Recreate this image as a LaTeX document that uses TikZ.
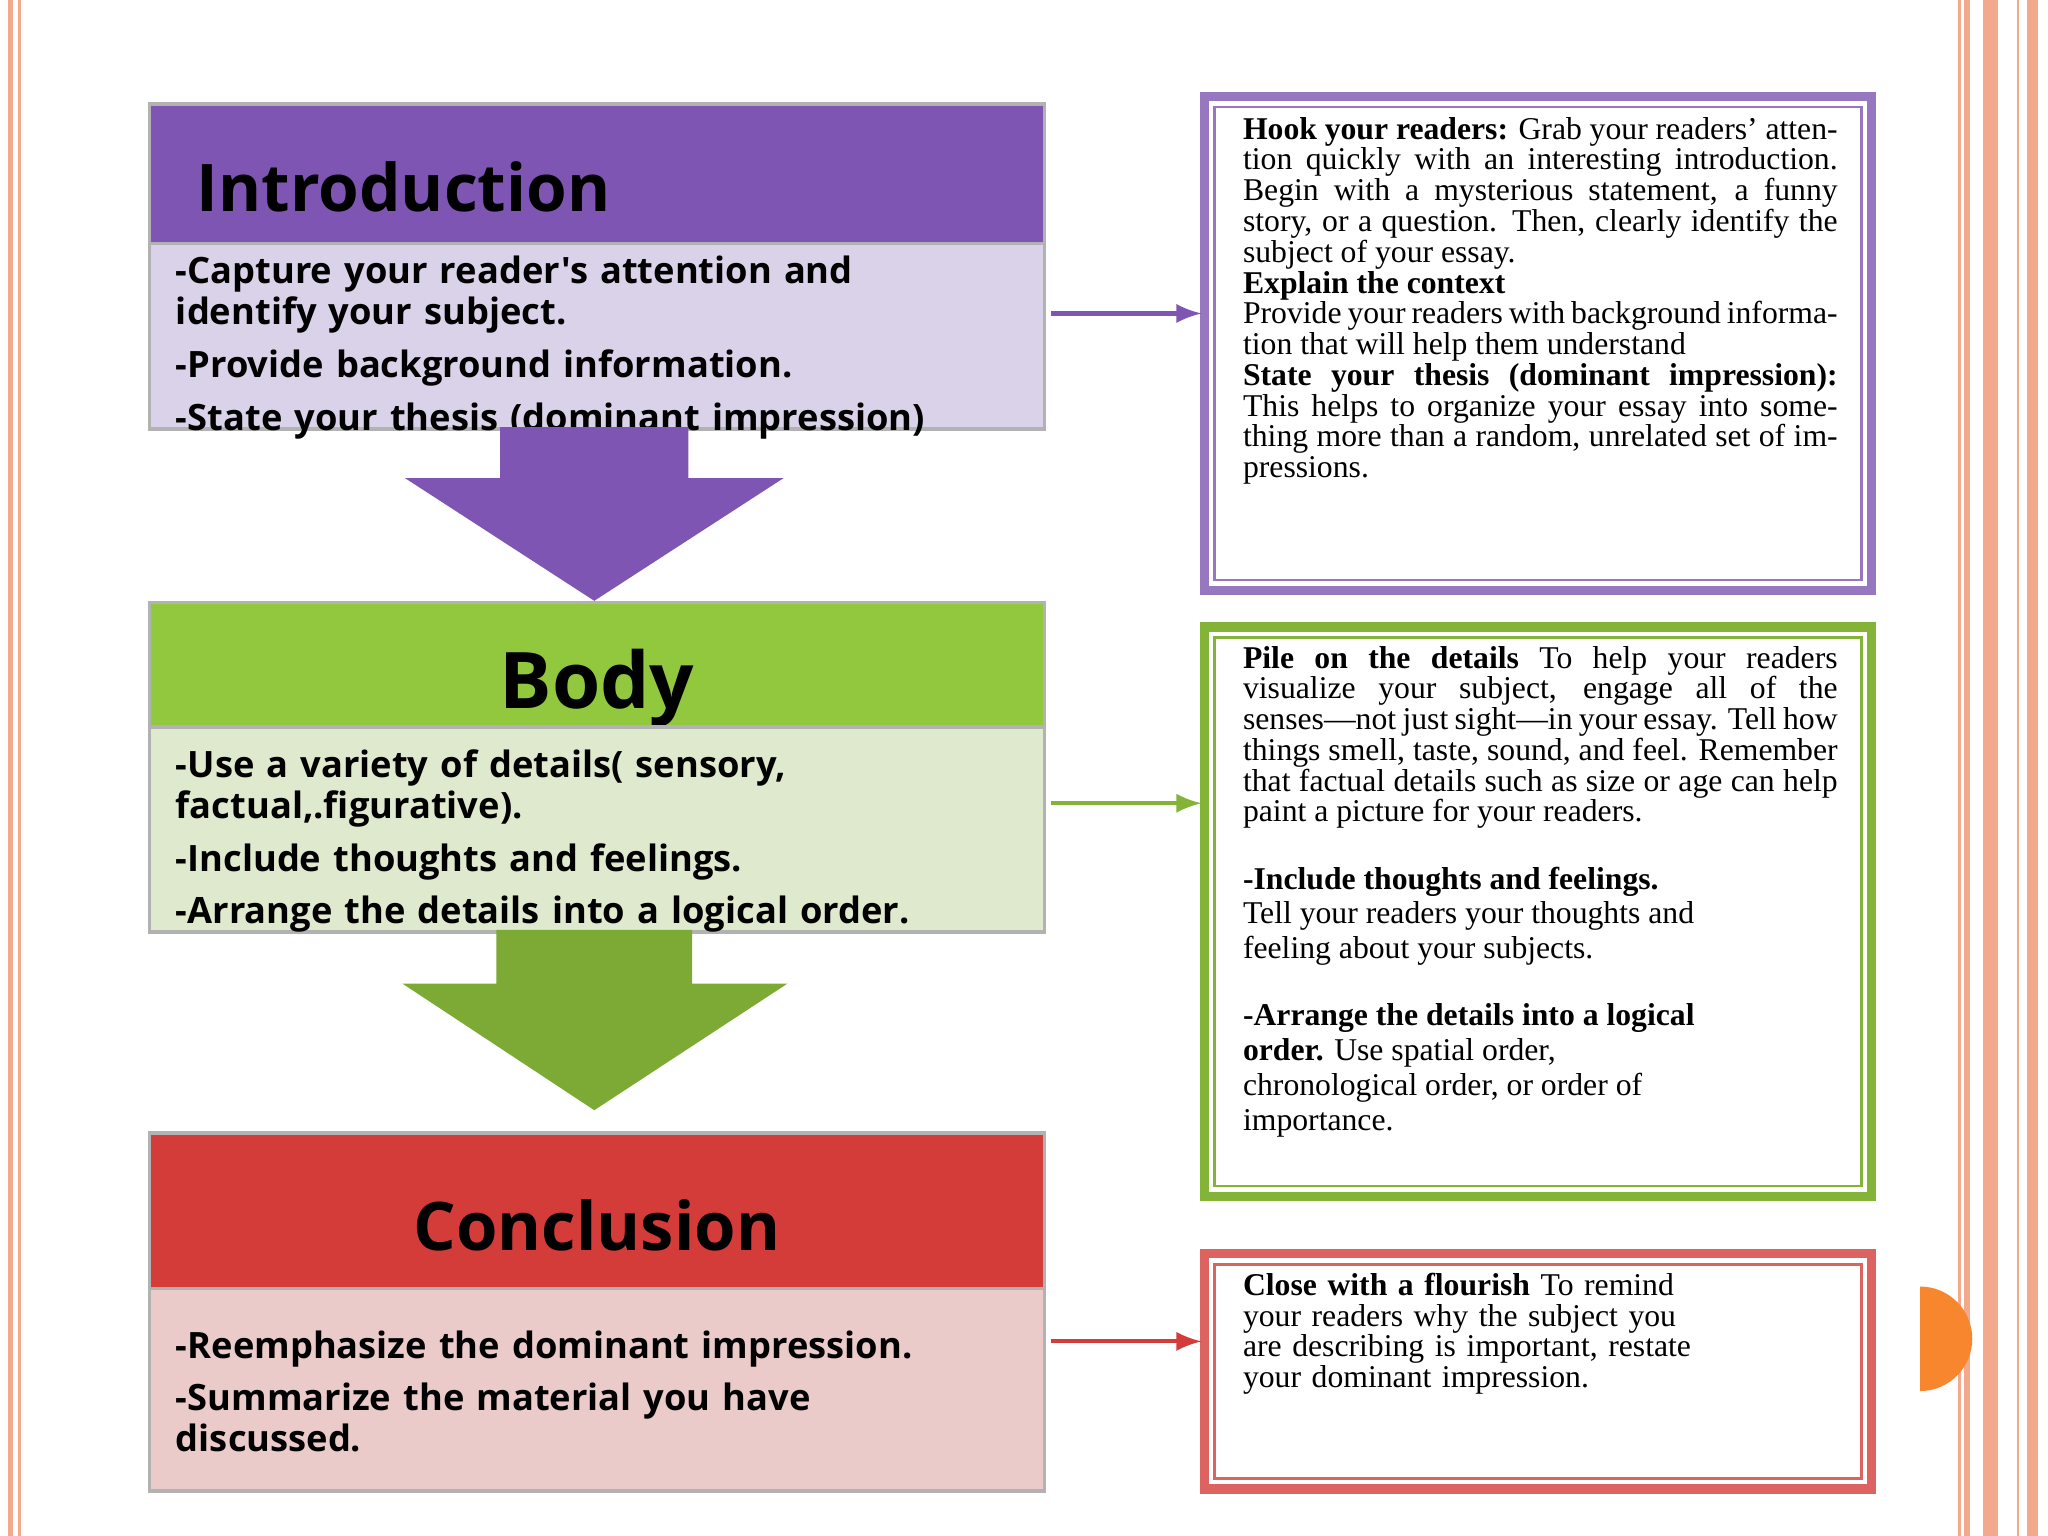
\documentclass[tikz,border=0pt]{standalone}
\usepackage{fontspec}
\setmainfont{Liberation Serif}
\newfontfamily\hdfont{Open Sans}
\newcommand\nohyph{\hyphenpenalty=10000\relax\exhyphenpenalty=10000\relax}
\definecolor{pur}{HTML}{7E55B2}
\definecolor{purl}{HTML}{DAD2E9}
\definecolor{grn}{HTML}{92C83E}
\definecolor{grnl}{HTML}{DFE9CE}
\definecolor{red1}{HTML}{D43C3A}
\definecolor{redl}{HTML}{EBCACA}
\definecolor{sal}{HTML}{F3A98C}
\definecolor{org}{HTML}{F7862E}
\tikzset{x=0.01cm,y=-0.01cm,
 hdr/.style={draw=gray!60,line width=0.8pt},
 lbody/.style={anchor=north west,text width=6.6cm,align=left,inner sep=0pt,font=\hdfont\bfseries\fontsize{7.9}{7.4}\selectfont},
 rtext/.style={anchor=north west,text width=4.55cm,align=justify,inner sep=0pt,font=\fontsize{6.9}{6.7}\selectfont},
 rleft/.style={anchor=north west,text width=4.55cm,align=left,inner sep=0pt,font=\fontsize{6.9}{6.7}\selectfont},
 conn/.style={-latex,line width=0.9pt}}
\begin{document}
\begin{tikzpicture}
\useasboundingbox (0,0) rectangle (1568,1176);
\fill[white] (0,0) rectangle (1568,1176);
% page borders
\draw[sal,line width=1.2pt] (8,0)--(8,1176);
\draw[sal,line width=0.6pt] (15,0)--(15,1176);
\draw[sal,line width=0.6pt] (1500,0)--(1500,1176);
\draw[sal,line width=1.2pt] (1506,0)--(1506,1176);
\fill[sal] (1518,0) rectangle (1530,1176);
\draw[sal,line width=0.6pt] (1545,0)--(1545,1176);
\fill[sal] (1552,0) rectangle (1560,1176);
\fill[org] (1470,985) arc[start angle=90,end angle=-90,radius=0.4cm] -- cycle;
% intro
\node[hdr,fill=pur,minimum width=6.85cm,minimum height=1.07cm,anchor=north west] (ih) at (113,78) {};
\node[anchor=west,inner sep=0pt,font=\hdfont\bfseries\fontsize{14.3}{15}\selectfont] (iht) at (150,143) {Introduction};
\node[hdr,fill=purl,minimum width=6.85cm,minimum height=1.42cm,anchor=north west] (ib) at (113,185) {};
\node[lbody] (ibt) at (134,195) {-Capture your reader's attention and\\identify your subject.\\[2.6pt]-Provide background information.\\[2.6pt]-State your thesis (dominant impression)};
\fill[pur] (383,327) rectangle (527,366) -- (600,366) -- (455,460) -- (310,366) -- (383,366) -- cycle;
% body
\node[hdr,fill=grn,minimum width=6.85cm,minimum height=0.95cm,anchor=north west] (bh) at (113,460) {};
\node[font=\hdfont\bfseries\fontsize{17}{18}\selectfont] (bht) at (457,527) {Body};
\node[hdr,fill=grnl,minimum width=6.85cm,minimum height=1.57cm,anchor=north west] (bb) at (113,555) {};
\node[lbody] (bbt) at (134,573) {-Use a variety of details( sensory,\\factual,.figurative).\\[2.6pt]-Include thoughts and feelings.\\[2.6pt]-Arrange the details into a logical order.};
\fill[grn!85!black] (380,712) rectangle (530,753) -- (603,753) -- (455,850) -- (308,753) -- (380,753) -- cycle;
% conclusion
\node[hdr,fill=red1,minimum width=6.85cm,minimum height=1.19cm,anchor=north west] (ch) at (113,866) {};
\node[font=\hdfont\bfseries\fontsize{14.6}{15}\selectfont] (cht) at (457,938) {Conclusion};
\node[hdr,fill=redl,minimum width=6.85cm,minimum height=1.55cm,anchor=north west] (cb) at (113,985) {};
\node[lbody] (cbt) at (134,1018) {-Reemphasize the dominant impression.\\[2.6pt]-Summarize the material you have\\discussed.};
% right boxes
\draw[pur!80,line width=2pt] (922,74) rectangle (1433,452);
\draw[pur!80,line width=0.6pt] (930,82) rectangle (1425,444);
\node[rtext] (it) at (951,89) {\nohyph\textbf{Hook your readers:} Grab your readers' attention quickly with an interesting introduction. Begin with a mysterious statement, a funny story, or a question. Then, clearly identify the subject of your essay.\\ \textbf{Explain the context}\\ Provide your readers with background information that will help them understand\\ \textbf{State your thesis (dominant impression):} This helps to organize your essay into something more than a random, unrelated set of impressions.};
\draw[grn!90!black,line width=2pt] (922,480) rectangle (1433,916);
\draw[grn!90!black,line width=0.6pt] (930,488) rectangle (1425,908);
\node[rtext] (bt) at (951,494) {\nohyph\textbf{Pile on the details} To help your readers visualize your subject, engage all of the senses---not just sight---in your essay. Tell how things smell, taste, sound, and feel. Remember that factual details such as size or age can help paint a picture for your readers.\par\vspace{7pt}
{\raggedright\fontsize{6.9}{7.6}\selectfont\textbf{-Include thoughts and feelings.}\\ Tell your readers your thoughts and\\ feeling about your subjects.\par\vspace{7pt}
\textbf{-Arrange the details into a logical}\\ \textbf{order.} Use spatial order,\\ chronological order, or order of\\ importance.\par}};
\draw[red1!80,line width=2pt] (922,960) rectangle (1433,1140);
\draw[red1!80,line width=0.6pt] (930,968) rectangle (1425,1132);
\node[rleft] (ct) at (951,974) {\textbf{Close with a flourish} To remind\\ your readers why the subject you\\ are describing is important, restate\\ your dominant impression.};
% connectors
\coordinate (a1) at (805,240); \coordinate (a2) at (920,240);
\coordinate (b1) at (805,615); \coordinate (b2) at (920,615);
\coordinate (c1) at (805,1027); \coordinate (c2) at (920,1027);
\draw[conn,pur] (a1)--(a2);
\draw[conn,grn!90!black] (b1)--(b2);
\draw[conn,red1] (c1)--(c2);
\end{tikzpicture}
\end{document}
